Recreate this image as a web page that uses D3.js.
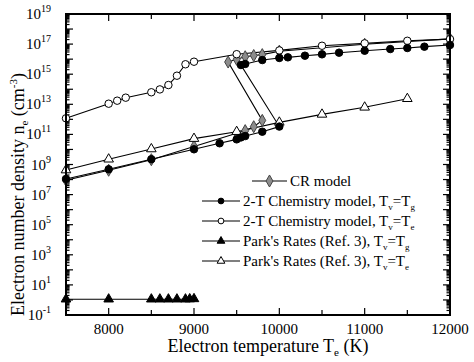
<!DOCTYPE html>
<html>
<head>
<meta charset="utf-8">
<script src="https://cdn.jsdelivr.net/npm/d3@7"></script>
<style>
  body { margin: 0; background: #fff; }
  text { font-family: "Liberation Serif", "Times New Roman", serif; fill: #000; }
</style>
</head>
<body>
<svg id="chart"></svg>
<script>
// values (x = Te in K, y = log10 of ne)
const crX = [7500, 8000, 8500, 9000, 9500, 9600, 9700, 9800, 9400, 9500, 9600, 9700, 9800, 10000, 11000, 12000]
const crY = [7.95, 8.62, 9.32, 10.2, 11.07, 11.25, 11.51, 11.93, 15.81, 15.99, 16.16, 16.24, 16.3, 16.53, 16.99, 17.35]

const tgX = [7500, 8000, 8500, 9000, 9300, 9500, 9550, 9600, 9800, 10000, 9550, 9600, 9800, 10000, 10100, 10300, 10500, 10700, 11000, 11300, 11500, 11700, 12000]
const tgY = [8.04, 8.68, 9.35, 10.01, 10.41, 10.67, 10.8, 10.89, 11.18, 11.52, 15.61, 15.68, 15.94, 16.08, 16.12, 16.23, 16.32, 16.43, 16.56, 16.67, 16.74, 16.83, 16.94]

const teX = [7500, 8000, 8100, 8200, 8500, 8600, 8700, 8800, 8900, 9000, 9500, 10000, 10500, 11000, 11500, 12000]
const teY = [12.07, 13.04, 13.24, 13.44, 13.8, 13.99, 14.28, 14.9, 15.66, 15.83, 16.33, 16.58, 16.89, 17.05, 17.22, 17.33]

const parkGX = [7500, 8000, 8500, 8600, 8700, 8800, 8900, 8950, 9000]
const parkGY = [0.05, 0.05, 0.05, 0.05, 0.05, 0.05, 0.05, 0.06, 0.07]

const parkEX = [7500, 8000, 8500, 9000, 9500, 10000, 10500, 11000, 11500]
const parkEY = [8.63, 9.35, 10.03, 10.72, 11.18, 11.8, 12.33, 12.8, 13.37]

const xTicks = [7500, 8000, 8500, 9000, 9500, 10000, 10500, 11000, 11500, 12000]
const xLabels = [8000, 9000, 10000, 11000, 12000]
const yExp = [-1, 1, 3, 5, 7, 9, 11, 13, 15, 17, 19]

const width = 474
const height = 362
const mLeft = 66, mRight = 450, mTop = 14, mBottom = 315

const svg = d3.select('#chart')
              .attr('width', width)
              .attr('height', height)
              .attr('font-family', 'Liberation Serif, Times New Roman, serif')

const x = d3.scaleLinear().domain([7500, 12000]).range([mLeft, mRight])
const y = d3.scaleLog().domain([1e-1, 1e19]).range([mBottom, mTop])

// ticks: inside, on all four sides
const g = svg.append('g')
const minorY = []
for (let e = -1; e < 19; e++) {
    for (let k = 2; k <= 9; k++) minorY.push(k * Math.pow(10, e))
}
const majorY = d3.range(-1, 20).map(e => Math.pow(10, e))

const tickLine = (x1, y1, x2, y2) => g.append('line')
    .attr('x1', x1).attr('y1', y1).attr('x2', x2).attr('y2', y2)
    .attr('stroke', '#000').attr('stroke-width', 1.2)

majorY.forEach(v => {
    tickLine(mLeft, y(v), mLeft + 7, y(v))
    tickLine(mRight, y(v), mRight - 7, y(v))
})
minorY.forEach(v => {
    tickLine(mLeft, y(v), mLeft + 3.5, y(v))
    tickLine(mRight, y(v), mRight - 3.5, y(v))
})
xTicks.forEach(v => {
    const len = v % 1000 === 0 ? 7 : 5
    tickLine(x(v), mBottom, x(v), mBottom - len)
    tickLine(x(v), mTop, x(v), mTop + len)
})

// tick labels
svg.selectAll('.xlab')
   .data(xLabels)
   .join('text')
   .attr('x', d => x(d))
   .attr('y', 334)
   .attr('text-anchor', 'middle')
   .attr('font-size', 15)
   .text(d => d)

const ylab = svg.selectAll('.ylab')
   .data(yExp)
   .join('text')
   .attr('x', 51)
   .attr('y', d => y(Math.pow(10, d)) + 5)
   .attr('text-anchor', 'end')
   .attr('font-size', 15)
ylab.append('tspan').text('10')
ylab.append('tspan').attr('dy', -7).attr('font-size', 10).text(d => d)

// axis titles
const xt = svg.append('text')
   .attr('x', (mLeft + mRight) / 2 + 10)
   .attr('y', 352)
   .attr('text-anchor', 'middle')
   .attr('font-size', 18)
xt.append('tspan').text('Electron temperature T')
xt.append('tspan').attr('dy', 4).attr('font-size', 11).text('e')
xt.append('tspan').attr('dy', -4).text(' (K)')

const yt = svg.append('text')
   .attr('transform', `translate(24, ${(mTop + mBottom) / 2 + 30}) rotate(-90)`)
   .attr('text-anchor', 'middle')
   .attr('font-size', 18)
yt.append('tspan').text('Electron number density n')
yt.append('tspan').attr('dy', 4).attr('font-size', 11).text('e')
yt.append('tspan').attr('dy', -4).text(' (cm')
yt.append('tspan').attr('dy', -7).attr('font-size', 11).text('-3')
yt.append('tspan').attr('dy', 7).text(')')

// series
const series = [
    { xs: crX, ys: crY, shape: 'diamond', fill: '#8c8c8c' },
    { xs: parkEX, ys: parkEY, shape: 'triangle', fill: '#fff' },
    { xs: teX, ys: teY, shape: 'circle', fill: '#fff' },
    { xs: tgX, ys: tgY, shape: 'circle', fill: '#000' },
    { xs: parkGX, ys: parkGY, shape: 'triangle', fill: '#000' }
]

const symbolOf = shape => {
    if (shape === 'diamond') return d3.symbol().type(d3.symbolDiamond).size(42)
    if (shape === 'triangle') return d3.symbol().type(d3.symbolTriangle).size(40)
    return d3.symbol().type(d3.symbolCircle).size(44)
}

const line = d3.line().x(d => x(d[0])).y(d => y(Math.pow(10, d[1])))

const plot = svg.append('g')
series.forEach(s => {
    const pts = s.xs.map((v, i) => [v, s.ys[i]])
    plot.append('path')
        .attr('d', line(pts))
        .attr('fill', 'none')
        .attr('stroke', '#000')
        .attr('stroke-width', 1.1)
})
series.forEach(s => {
    const pts = s.xs.map((v, i) => [v, s.ys[i]])
    plot.selectAll(null)
        .data(pts)
        .join('path')
        .attr('transform', d => `translate(${x(d[0])}, ${y(Math.pow(10, d[1]))})`)
        .attr('d', symbolOf(s.shape))
        .attr('fill', s.fill)
        .attr('stroke', s.shape === 'diamond' ? '#444' : '#000')
        .attr('stroke-width', 1)
})

// frame
svg.append('rect')
   .attr('x', mLeft).attr('y', mTop)
   .attr('width', mRight - mLeft).attr('height', mBottom - mTop)
   .attr('fill', 'none')
   .attr('stroke', '#000')
   .attr('stroke-width', 2)

// legend
const legend = [
    { s: series[0], y: 181, x1: 252, x2: 287, label: ['CR model'] },
    { s: series[3], y: 201, x1: 202, x2: 240, label: ['2-T Chemistry model, T', 'v', '=T', 'g'] },
    { s: series[2], y: 221, x1: 202, x2: 240, label: ['2-T Chemistry model, T', 'v', '=T', 'e'] },
    { s: series[4], y: 241, x1: 202, x2: 240, label: ["Park's Rates (Ref. 3), T", 'v', '=T', 'g'] },
    { s: series[1], y: 261, x1: 202, x2: 240, label: ["Park's Rates (Ref. 3), T", 'v', '=T', 'e'] }
]
legend.forEach(it => {
    svg.append('line')
       .attr('x1', it.x1).attr('x2', it.x2)
       .attr('y1', it.y).attr('y2', it.y)
       .attr('stroke', '#000').attr('stroke-width', 1.1)
    svg.append('path')
       .attr('transform', `translate(${(it.x1 + it.x2) / 2}, ${it.y})`)
       .attr('d', symbolOf(it.s.shape).size(it.s.shape === 'diamond' ? 42 : 26))
       .attr('fill', it.s.fill)
       .attr('stroke', it.s.shape === 'diamond' ? '#444' : '#000')
    const t = svg.append('text')
       .attr('x', it.x2 + 3)
       .attr('y', it.y + 5)
       .attr('font-size', 15)
    it.label.forEach((part, i) => {
        const sub = i % 2 === 1
        t.append('tspan')
         .attr('dy', i === 0 ? 0 : (sub ? 4 : -4))
         .attr('font-size', sub ? 9 : 15)
         .text(part)
    })
})
</script>
</body>
</html>
